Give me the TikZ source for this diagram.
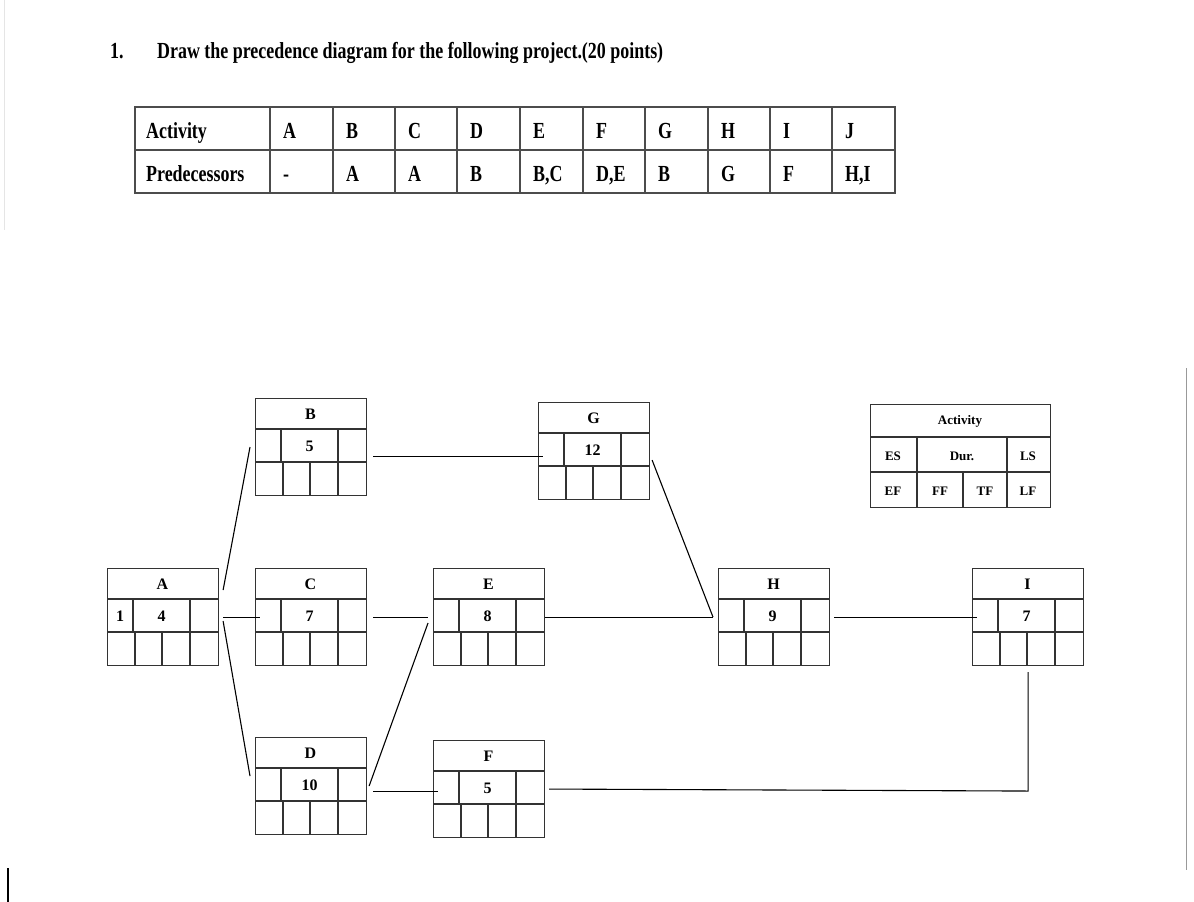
\documentclass[tikz,border=0pt]{standalone}
\usepackage{fontspec}
\setmainfont{Liberation Serif}
\usetikzlibrary{calc}
\tikzset{
  ln/.style={draw=black!80,line width=1.1},
  conn/.style={draw=black,line width=1.1},
  bt/.style={font=\bfseries\fontsize{16}{16}\selectfont,inner sep=0},
  lt/.style={font=\bfseries\fontsize{13}{13}\selectfont,inner sep=0},
  tt/.style={font=\bfseries\fontsize{23}{23}\selectfont,inner sep=0,xscale=0.78},
}
\newcommand\abox[6]{%
  \node[ln,minimum width=111pt,minimum height=97pt,anchor=north west,inner sep=0] (#1) at (#2,#3) {};
  \draw[ln] (#2,#3+31)--(#2+111,#3+31) (#2,#3+64)--(#2+111,#3+64)
    (#2+26,#3+31)--(#2+26,#3+64) (#2+83,#3+31)--(#2+83,#3+64)
    (#2+28,#3+64)--(#2+28,#3+97) (#2+55,#3+64)--(#2+55,#3+97) (#2+83,#3+64)--(#2+83,#3+97);
  \node[bt] (#1l) at (#2+55.5,#3+16) {#4};
  \node[bt] (#1d) at (#2+54.5,#3+48) {#5};
  \node[bt] (#1e) at (#2+13,#3+48) {#6};
}
\begin{document}
\begin{tikzpicture}[x=1pt,y=-1pt]
\useasboundingbox (0,0) rectangle (1194,902);
\fill[white] (0,0) rectangle (1194,902);
\draw[black!10,line width=1] (4,0)--(4,230);
\draw[black!40,line width=1] (1186,368)--(1186,870);
\draw[black,line width=1.5] (8,868)--(8,902);
% title
\node[tt,anchor=base west] (num) at (110,58) {1.};
\node[tt,anchor=base west] (title) at (157,58) {Draw the precedence diagram for the following project.(20 points)};
% table
\draw[draw=black!70,line width=1.8] (135,107) rectangle (895,193) (135,150)--(895,150);
\foreach \xx in {270,333,395,457,520,583,645,708,770,832}{\draw[draw=black!70,line width=1.5] (\xx,107)--(\xx,193);}
\node[tt,anchor=base west] (tact) at (146,138) {Activity};
\node[tt,anchor=base west] (tpre) at (146,181) {Predecessors};
\foreach \a/\b/\p [count=\i] in {270/333/A,333/395/B,395/457/C,457/520/D,520/583/E,583/645/F,645/708/G,708/770/H,770/832/I,832/895/J}{
  \node[tt,anchor=base west] (ta\i) at (\a+13,138) {\p};}
\foreach \a/\p [count=\i] in {270/-,333/A,395/A,457/B,520/{B,C},583/{D,E},645/B,708/G,770/F,832/{H,I}}{
  \node[tt,anchor=base west] (tp\i) at (\a+13,181) {\p};}
% boxes
\abox{A}{107}{568}{A}{4}{1}
\abox{B}{255}{398}{B}{5}{}
\abox{G}{538}{402}{G}{12}{}
\abox{C}{255}{568}{C}{7}{}
\abox{E}{433}{568}{E}{8}{}
\abox{H}{718}{568}{H}{9}{}
\abox{I}{972}{568}{I}{7}{}
\abox{D}{255}{737}{D}{10}{}
\abox{F}{433}{740}{F}{5}{}
% legend
\node[ln,minimum width=180pt,minimum height=103pt,anchor=north west,inner sep=0] (L) at (870,404) {};
\draw[ln] (870,437)--(1050,437) (870,472)--(1050,472) (917,437)--(917,507) (1007,437)--(1007,507) (963,472)--(963,507);
\node[lt] (l1) at (960,421) {Activity};
\node[lt] (l2) at (893,456) {ES};
\node[lt] (l3) at (962,456) {Dur.};
\node[lt] (l4) at (1028,456) {LS};
\node[lt] (l5) at (893,491) {EF};
\node[lt] (l6) at (940,491) {FF};
\node[lt] (l7) at (985,491) {TF};
\node[lt] (l8) at (1028,491) {LF};
% connectors
\draw[conn] ([shift={(4,-27)}]A.east) -- ([shift={(-5,0)}]B.west);
\draw[conn] ([shift={(4,0)}]A.east) -- ([shift={(5,0)}]C.west);
\draw[conn] ([shift={(4,4)}]A.east) -- ([shift={(-5,-10)}]D.west);
\draw[conn] ([shift={(6,9)}]B.east) -- ([shift={(5,9)}]B.east -| G.west);
\draw[conn] ([shift={(6,0)}]C.east) -- ([shift={(-5,0)}]E.west);
\draw[conn] ([shift={(2,0)}]D.east) -- ([shift={(-5,6)}]E.west);
\draw[conn] ([shift={(0,0)}]E.east) -- ([shift={(-5,0)}]H.west);
\draw[conn] ([shift={(2,9)}]G.east) -- ([shift={(-5,0)}]H.west);
\draw[conn] ([shift={(4,0)}]H.east) -- ([shift={(5,0)}]I.west);
\draw[conn] ([shift={(6,5)}]D.east) -- ([shift={(5,5)}]D.east -| F.west);
\draw[conn] ([shift={(4,0)}]F.east) -- ([shift={(0,2)}]F.east -| I.south) -- ([shift={(0,6)}]I.south);
\end{tikzpicture}
\end{document}
